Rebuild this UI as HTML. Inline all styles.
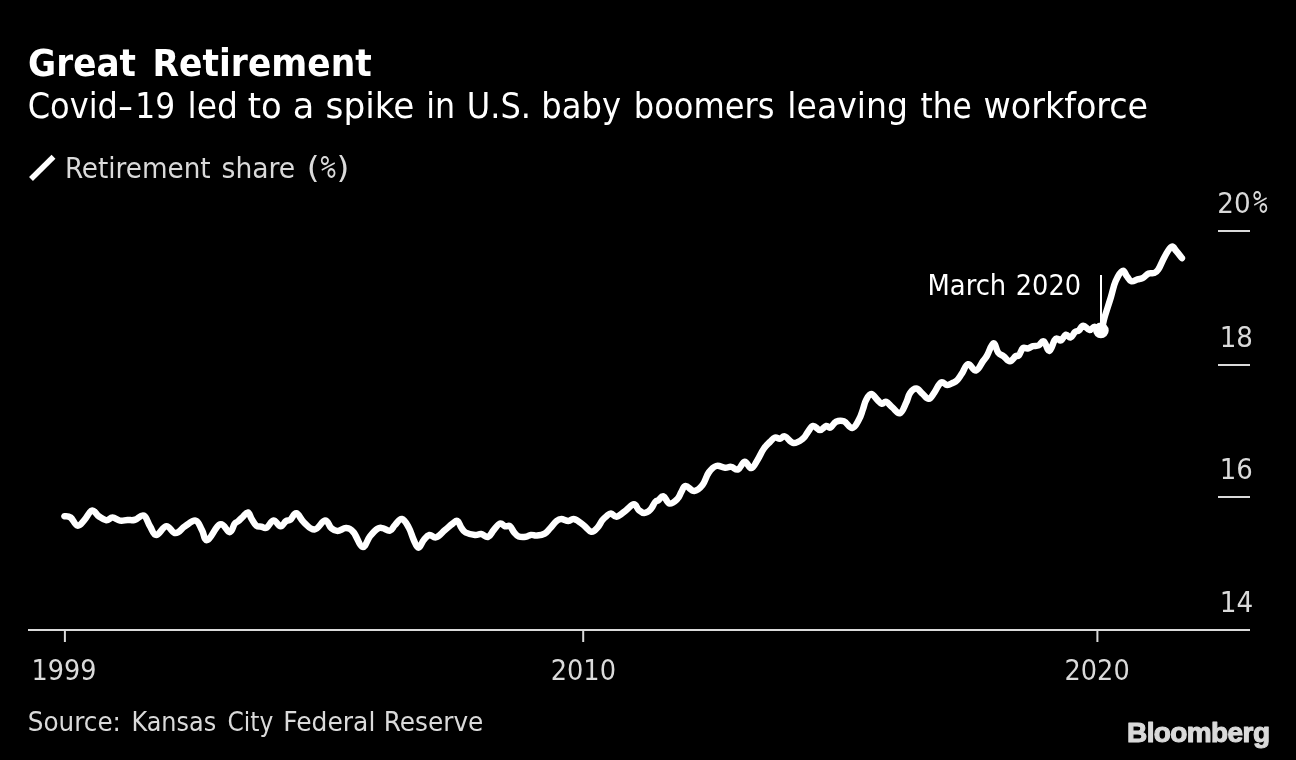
<!DOCTYPE html>
<html><head><meta charset="utf-8"><title>Great Retirement</title>
<style>
html,body{margin:0;padding:0;background:#000;}
body{width:1296px;height:760px;overflow:hidden;}
svg{display:block}
text{font-family:"DejaVu Sans Condensed","DejaVu Sans","Liberation Sans",sans-serif;}
.w{fill:#fff}
.g{fill:#dadada}
.b{font-weight:bold}
.mono{font-family:"DejaVu Sans Mono","Liberation Mono",monospace}
.logo{font-family:"Liberation Sans",sans-serif;font-weight:bold;fill:#dadada;stroke:#dadada;stroke-width:1.1px;stroke-linejoin:round}
</style></head><body>
<svg width="1296" height="760" viewBox="0 0 1296 760">
<rect width="1296" height="760" fill="#000"/>
<line x1="31" y1="179" x2="53.5" y2="156.7" stroke="#fff" stroke-width="5.5"/>
<g stroke="#dadada" stroke-width="2">
<line x1="1218" y1="231" x2="1250" y2="231"/>
<line x1="1218" y1="365" x2="1250" y2="365"/>
<line x1="1218" y1="497" x2="1250" y2="497"/>
<line x1="28" y1="630" x2="1250" y2="630"/>
<line x1="64.9" y1="630" x2="64.9" y2="642"/>
<line x1="583.2" y1="630" x2="583.2" y2="642"/>
<line x1="1097.4" y1="630" x2="1097.4" y2="642"/>
</g>
<text class="w b"><tspan x="28.08" y="75.5" font-size="37" textLength="107.86" lengthAdjust="spacingAndGlyphs">Great</tspan> <tspan x="152.53" y="75.5" font-size="37" textLength="219.31" lengthAdjust="spacingAndGlyphs">Retirement</tspan></text>
<text class="w"><tspan x="27.72" y="117.5" font-size="35.3" textLength="90.21" lengthAdjust="spacingAndGlyphs">Covid</tspan><tspan x="117.85" y="117.5" font-size="35.3" textLength="15.55" lengthAdjust="spacingAndGlyphs">-</tspan><tspan x="135.36" y="117.5" font-size="35.3" textLength="39.80" lengthAdjust="spacingAndGlyphs">19</tspan> <tspan x="187.64" y="117.5" font-size="35.3" textLength="50.39" lengthAdjust="spacingAndGlyphs">led</tspan> <tspan x="247.81" y="117.5" font-size="35.3" textLength="33.99" lengthAdjust="spacingAndGlyphs">to</tspan> <tspan x="292.85" y="117.5" font-size="35.3" textLength="21.59" lengthAdjust="spacingAndGlyphs">a</tspan> <tspan x="325.59" y="117.5" font-size="35.3" textLength="88.78" lengthAdjust="spacingAndGlyphs">spike</tspan> <tspan x="426.26" y="117.5" font-size="35.3" textLength="28.90" lengthAdjust="spacingAndGlyphs">in</tspan> <tspan x="466.74" y="117.5" font-size="35.3" textLength="64.19" lengthAdjust="spacingAndGlyphs">U.S.</tspan> <tspan x="541.30" y="117.5" font-size="35.3" textLength="79.63" lengthAdjust="spacingAndGlyphs">baby</tspan> <tspan x="633.80" y="117.5" font-size="35.3" textLength="140.73" lengthAdjust="spacingAndGlyphs">boomers</tspan> <tspan x="787.37" y="117.5" font-size="35.3" textLength="120.62" lengthAdjust="spacingAndGlyphs">leaving</tspan> <tspan x="920.38" y="117.5" font-size="35.3" textLength="51.32" lengthAdjust="spacingAndGlyphs">the</tspan> <tspan x="983.61" y="117.5" font-size="35.3" textLength="164.48" lengthAdjust="spacingAndGlyphs">workforce</tspan></text>
<text class="g"><tspan x="64.95" y="177.75" font-size="28.5" textLength="145.66" lengthAdjust="spacingAndGlyphs">Retirement</tspan> <tspan x="221.52" y="177.75" font-size="28.5" textLength="73.69" lengthAdjust="spacingAndGlyphs">share</tspan> <tspan x="306.68" y="178.1" font-size="30.5" textLength="12.85" lengthAdjust="spacingAndGlyphs">(</tspan><tspan class="mono" x="320.52" y="177.9" font-size="32.5" textLength="15.32" lengthAdjust="spacingAndGlyphs">%</tspan><tspan x="336.54" y="178.1" font-size="30.5" textLength="12.85" lengthAdjust="spacingAndGlyphs">)</tspan></text>
<text class="w"><tspan x="927.55" y="294.7" font-size="28.5" textLength="78.72" lengthAdjust="spacingAndGlyphs">March</tspan> <tspan x="1015.74" y="294.7" font-size="28.5" textLength="65.34" lengthAdjust="spacingAndGlyphs">2020</tspan></text>
<text class="g"><tspan x="1217.31" y="212.75" font-size="28.5" textLength="33.33" lengthAdjust="spacingAndGlyphs">20</tspan><tspan class="mono" x="1252.94" y="212.75" font-size="32" textLength="14.58" lengthAdjust="spacingAndGlyphs">%</tspan></text>
<text class="g"><tspan x="1219.67" y="346.7" font-size="28.5" textLength="33.23" lengthAdjust="spacingAndGlyphs">18</tspan></text>
<text class="g"><tspan x="1219.68" y="478.8" font-size="28.5" textLength="33.06" lengthAdjust="spacingAndGlyphs">16</tspan></text>
<text class="g"><tspan x="1219.65" y="612" font-size="28.5" textLength="33.50" lengthAdjust="spacingAndGlyphs">14</tspan></text>
<text class="g"><tspan x="31.58" y="679.7" font-size="28.5" textLength="64.96" lengthAdjust="spacingAndGlyphs">1999</tspan></text>
<text class="g"><tspan x="550.75" y="679.7" font-size="28.5" textLength="65.24" lengthAdjust="spacingAndGlyphs">2010</tspan></text>
<text class="g"><tspan x="1064.55" y="679.7" font-size="28.5" textLength="65.13" lengthAdjust="spacingAndGlyphs">2020</tspan></text>
<text class="g"><tspan x="27.85" y="731.25" font-size="26" textLength="93.06" lengthAdjust="spacingAndGlyphs">Source:</tspan> <tspan x="131.42" y="731.25" font-size="26" textLength="84.71" lengthAdjust="spacingAndGlyphs">Kansas</tspan> <tspan x="227.45" y="731.25" font-size="26" textLength="45.78" lengthAdjust="spacingAndGlyphs">City</tspan> <tspan x="283.32" y="731.25" font-size="26" textLength="92.04" lengthAdjust="spacingAndGlyphs">Federal</tspan> <tspan x="383.84" y="731.25" font-size="26" textLength="99.52" lengthAdjust="spacingAndGlyphs">Reserve</tspan></text>
<path d="M64.40,516.25C65.64,516.50 67.98,515.63 70.60,517.50C73.22,519.37 74.74,525.10 77.50,525.60C80.26,526.10 81.52,523.00 84.40,520.00C87.28,517.00 89.03,511.35 91.90,510.60C94.77,509.85 95.88,514.32 98.75,516.25C101.62,518.18 103.50,520.00 106.25,520.25C109.00,520.50 109.75,517.43 112.50,517.50C115.25,517.57 117.00,520.10 120.00,520.60C123.00,521.10 124.50,520.17 127.50,520.00C130.50,519.83 131.75,520.63 135.00,519.75C138.25,518.87 140.75,514.30 143.75,515.60C146.75,516.90 147.50,522.37 150.00,526.25C152.50,530.13 153.00,535.00 156.25,535.00C159.50,535.00 162.38,526.63 166.25,526.25C170.12,525.87 171.85,533.10 175.60,533.10C179.35,533.10 181.00,528.75 185.00,526.25C189.00,523.75 192.22,519.85 195.60,520.60C198.98,521.35 199.52,526.12 201.90,530.00C204.28,533.88 203.88,541.12 207.50,540.00C211.12,538.88 215.56,525.96 220.00,524.40C224.44,522.84 226.80,532.30 229.70,532.20C232.60,532.10 232.84,526.06 234.50,523.90C236.16,521.74 236.34,522.82 238.00,521.40C239.66,519.98 240.82,518.58 242.80,516.80C244.78,515.02 246.10,512.02 247.90,512.50C249.70,512.98 250.10,516.56 251.80,519.20C253.50,521.84 254.50,524.20 256.40,525.70C258.30,527.20 259.22,526.34 261.30,526.70C263.38,527.06 264.36,528.76 266.80,527.50C269.24,526.24 270.74,520.64 273.50,520.40C276.26,520.16 278.14,526.14 280.60,526.30C283.06,526.46 283.82,522.54 285.80,521.20C287.78,519.86 288.38,521.18 290.50,519.60C292.62,518.02 293.72,512.74 296.40,513.30C299.08,513.86 300.26,519.16 303.90,522.40C307.54,525.64 310.38,529.86 314.60,529.50C318.82,529.14 321.67,520.88 325.00,520.60C328.33,520.32 328.75,526.02 331.25,528.10C333.75,530.18 334.50,531.00 337.50,531.00C340.50,531.00 343.00,527.80 346.25,528.10C349.50,528.40 350.50,528.74 353.75,532.50C357.00,536.26 359.25,546.15 362.50,546.90C365.75,547.65 367.00,539.88 370.00,536.25C373.00,532.62 375.00,530.38 377.50,528.75C380.00,527.12 380.00,527.73 382.50,528.10C385.00,528.47 387.50,531.22 390.00,530.60C392.50,529.98 392.62,527.32 395.00,525.00C397.38,522.68 399.15,518.50 401.90,519.00C404.65,519.50 406.38,523.30 408.75,527.50C411.12,531.70 411.80,535.95 413.75,540.00C415.70,544.05 416.50,547.75 418.50,547.75C420.50,547.75 421.57,542.55 423.75,540.00C425.93,537.45 426.90,535.55 429.40,535.00C431.90,534.45 433.13,538.25 436.25,537.25C439.37,536.25 441.75,532.70 445.00,530.00C448.25,527.30 450.00,525.55 452.50,523.75C455.00,521.95 455.75,520.25 457.50,521.00C459.25,521.75 459.63,525.20 461.25,527.50C462.87,529.80 462.85,531.00 465.60,532.50C468.35,534.00 471.87,534.70 475.00,535.00C478.13,535.30 478.63,533.62 481.25,534.00C483.87,534.38 485.60,537.70 488.10,536.90C490.60,536.10 491.37,532.68 493.75,530.00C496.13,527.32 497.75,524.25 500.00,523.50C502.25,522.75 503.00,525.70 505.00,526.25C507.00,526.80 508.22,525.08 510.00,526.25C511.78,527.42 512.16,530.07 513.90,532.10C515.64,534.13 516.32,535.46 518.70,536.40C521.08,537.34 523.36,537.10 525.80,536.80C528.24,536.50 528.70,535.14 530.90,534.90C533.10,534.66 534.04,535.84 536.80,535.60C539.56,535.36 542.00,535.20 544.70,533.70C547.40,532.20 547.92,530.64 550.30,528.10C552.68,525.56 554.40,522.80 556.60,521.00C558.80,519.20 558.94,519.10 561.30,519.10C563.66,519.10 565.80,521.00 568.40,521.00C571.00,521.00 571.30,518.30 574.30,519.10C577.30,519.90 580.00,522.48 583.40,525.00C586.80,527.52 588.46,531.22 591.30,531.70C594.14,532.18 595.40,529.68 597.60,527.40C599.80,525.12 600.52,522.54 602.30,520.30C604.08,518.06 604.76,517.58 606.50,516.20C608.24,514.82 608.90,513.32 611.00,513.40C613.10,513.48 614.00,517.22 617.00,516.60C620.00,515.98 622.62,512.76 626.00,510.30C629.38,507.84 631.36,504.38 633.90,504.30C636.44,504.22 636.64,508.16 638.70,509.90C640.76,511.64 641.84,513.08 644.20,513.00C646.56,512.92 648.30,511.70 650.50,509.50C652.70,507.30 653.62,503.86 655.20,502.00C656.78,500.14 656.74,501.32 658.40,500.20C660.06,499.08 661.28,495.74 663.50,496.40C665.72,497.06 666.74,502.98 669.50,503.50C672.26,504.02 674.94,501.28 677.30,499.00C679.66,496.72 679.64,494.70 681.30,492.10C682.96,489.50 683.00,486.24 685.60,486.00C688.20,485.76 690.92,491.10 694.30,490.90C697.68,490.70 699.61,488.68 702.50,485.00C705.39,481.32 706.00,476.30 708.75,472.50C711.50,468.70 713.00,466.95 716.25,466.00C719.50,465.05 722.00,467.57 725.00,467.75C728.00,467.93 728.63,466.57 731.25,466.90C733.87,467.23 735.41,470.42 738.10,469.40C740.79,468.38 742.07,462.06 744.70,461.80C747.33,461.54 748.69,468.46 751.25,468.10C753.81,467.74 755.00,463.87 757.50,460.00C760.00,456.13 761.25,452.37 763.75,448.75C766.25,445.13 767.75,444.15 770.00,441.90C772.25,439.65 773.00,438.13 775.00,437.50C777.00,436.87 777.98,438.95 780.00,438.75C782.02,438.55 782.42,435.65 785.10,436.50C787.78,437.35 789.84,442.56 793.40,443.00C796.96,443.44 800.06,440.82 802.90,438.70C805.74,436.58 805.56,434.94 807.60,432.40C809.64,429.86 810.64,426.48 813.10,426.00C815.56,425.52 817.28,430.00 819.90,430.00C822.52,430.00 824.08,426.48 826.20,426.00C828.32,425.52 828.54,428.46 830.50,427.60C832.46,426.74 833.32,422.96 836.00,421.70C838.68,420.44 840.66,420.04 843.90,421.30C847.14,422.56 849.20,428.32 852.20,428.00C855.20,427.68 856.76,423.40 858.90,419.70C861.04,416.00 861.48,413.38 862.90,409.50C864.32,405.62 864.33,403.40 866.00,400.30C867.67,397.20 868.95,394.06 871.25,394.00C873.55,393.94 875.37,398.05 877.50,400.00C879.63,401.95 880.15,403.37 881.90,403.75C883.65,404.13 884.13,401.15 886.25,401.90C888.37,402.65 889.75,405.26 892.50,407.50C895.25,409.74 897.25,414.10 900.00,413.10C902.75,412.10 904.25,406.50 906.25,402.50C908.25,398.50 908.00,395.90 910.00,393.10C912.00,390.30 913.75,388.37 916.25,388.50C918.75,388.63 920.00,391.70 922.50,393.75C925.00,395.80 926.37,399.00 928.75,398.75C931.13,398.50 931.97,395.73 934.40,392.50C936.83,389.27 938.34,384.08 940.90,382.60C943.46,381.12 944.88,385.02 947.20,385.10C949.52,385.18 950.52,383.98 952.50,383.00C954.48,382.02 955.24,382.06 957.10,380.20C958.96,378.34 959.60,376.90 961.80,373.70C964.00,370.50 965.26,364.84 968.10,364.20C970.94,363.56 973.00,371.14 976.00,370.50C979.00,369.86 980.88,364.00 983.10,361.00C985.32,358.00 985.04,359.04 987.10,355.50C989.16,351.96 991.20,343.92 993.40,343.30C995.60,342.68 996.04,349.80 998.10,352.40C1000.16,355.00 1001.34,354.54 1003.70,356.30C1006.06,358.06 1007.48,361.26 1009.90,361.20C1012.32,361.14 1014.00,357.16 1015.80,356.00C1017.60,354.84 1017.48,356.98 1018.90,355.40C1020.32,353.82 1021.16,349.48 1022.90,348.10C1024.64,346.72 1025.56,348.88 1027.60,348.50C1029.64,348.12 1030.88,346.82 1033.10,346.20C1035.32,345.58 1036.56,346.36 1038.70,345.40C1040.84,344.44 1041.68,340.30 1043.80,341.40C1045.92,342.50 1047.16,351.12 1049.30,350.90C1051.44,350.68 1052.84,342.74 1054.50,340.30C1056.16,337.86 1056.26,338.70 1057.60,338.70C1058.94,338.70 1059.54,341.10 1061.20,340.30C1062.86,339.50 1064.02,335.26 1065.90,334.70C1067.78,334.14 1068.78,338.04 1070.60,337.50C1072.42,336.96 1073.34,333.42 1075.00,332.00C1076.66,330.58 1077.24,331.66 1078.90,330.40C1080.56,329.14 1081.16,325.78 1083.30,325.70C1085.44,325.62 1087.32,329.78 1089.60,330.00C1091.88,330.22 1092.42,326.84 1094.70,326.80C1096.98,326.76 1099.04,331.66 1101.00,329.80C1102.96,327.94 1102.54,323.96 1104.50,317.50C1106.46,311.04 1108.58,304.75 1110.80,297.50C1113.02,290.25 1113.26,286.55 1115.60,281.25C1117.94,275.95 1120.24,272.00 1122.50,271.00C1124.76,270.00 1125.15,274.20 1126.90,276.25C1128.65,278.30 1129.13,280.62 1131.25,281.25C1133.37,281.88 1135.25,280.03 1137.50,279.40C1139.75,278.77 1140.25,279.28 1142.50,278.10C1144.75,276.92 1146.50,274.50 1148.75,273.50C1151.00,272.50 1151.84,273.90 1153.75,273.10C1155.66,272.30 1156.13,272.76 1158.30,269.50C1160.47,266.24 1161.98,261.34 1164.60,256.80C1167.22,252.26 1169.07,247.96 1171.40,246.80C1173.73,245.64 1174.15,248.74 1176.25,251.00C1178.35,253.26 1180.77,256.68 1181.90,258.10" fill="none" stroke="#fff" stroke-width="6.5" stroke-linecap="round" stroke-linejoin="round"/>
<line x1="1101" y1="275" x2="1101" y2="325" stroke="#fff" stroke-width="2"/>
<circle cx="1100.9" cy="330.4" r="7.8" fill="#fff"/>
<text class="logo" x="1127" y="742.4" font-size="28" textLength="143" lengthAdjust="spacing">Bloomberg</text>
</svg>
</body></html>
